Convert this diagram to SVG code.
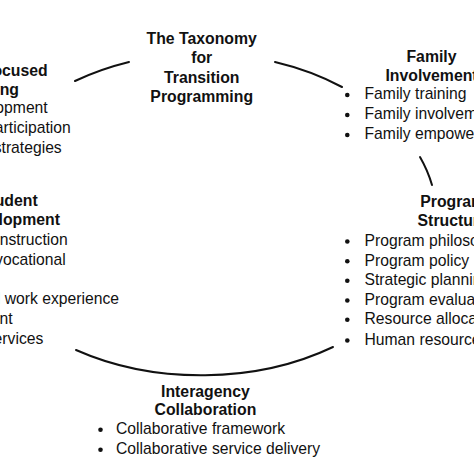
<svg xmlns="http://www.w3.org/2000/svg" width="474" height="474" viewBox="0 0 474 474">
<style>
text{font-family:"Liberation Sans",Arial,Helvetica,sans-serif;fill:#111}
.h{font-weight:bold;font-size:15.8px}
.b{font-size:15.7px}
.c{text-anchor:middle}
.e{text-anchor:end}
.arc{fill:none;stroke:#111;stroke-width:2;stroke-linecap:round}
.dot{fill:#111}
</style>
<rect width="474" height="474" fill="#fff"/>
<g id="connectors">
<path class="arc" d="M75,81 A232,160 0 0 1 129,62"/>
<path class="arc" d="M275,62 A232,160 0 0 1 342,87"/>
<path class="arc" d="M420,157 A232,160 0 0 1 432,185"/>
<path class="arc" d="M333,347 A232,160 0 0 1 76,350"/>
</g>
<g id="title">
<text class="h c" x="201.7" y="43.7">The Taxonomy</text>
<text class="h c" x="201.7" y="63.2">for</text>
<text class="h c" x="201.7" y="82.7">Transition</text>
<text class="h c" x="201.7" y="102.2">Programming</text>
</g>
<g id="student-focused-planning">
<text class="h e" x="47.7" y="76">Student-Focused</text>
<text class="h e" x="19" y="94.5">Planning</text>
<text class="b e" x="47.7" y="113.3">IEP development</text>
<text class="b e" x="70.7" y="133.3">Student participation</text>
<text class="b e" x="61.7" y="152.7">Planning strategies</text>
</g>
<g id="student-development">
<text class="h e" x="37.7" y="206">Student</text>
<text class="h e" x="60" y="225">Development</text>
<text class="b e" x="67.7" y="245">Life skills instruction</text>
<text class="b e" x="65.7" y="265">Career and vocational</text>
<text class="b e" x="119" y="304">Structured work experience</text>
<text class="b e" x="12.7" y="324">Assessment</text>
<text class="b e" x="43.3" y="344">Support services</text>
</g>
<g id="family-involvement">
<text class="h c" x="431.5" y="61.5">Family</text>
<text class="h c" x="431.5" y="80.5">Involvement</text>
<circle class="dot" cx="347.3" cy="95" r="2.3"/>
<circle class="dot" cx="347.3" cy="115" r="2.3"/>
<circle class="dot" cx="347.3" cy="135" r="2.3"/>
<text class="b" x="364.5" y="99.3">Family training</text>
<text class="b" x="364.5" y="119.3">Family involvement</text>
<text class="b" x="364.5" y="139.3">Family empowerment</text>
</g>
<g id="program-structure">
<text class="h c" x="452.7" y="207.3">Program</text>
<text class="h c" x="452.7" y="226">Structure</text>
<circle class="dot" cx="347.3" cy="241.5" r="2.3"/>
<circle class="dot" cx="347.3" cy="261.2" r="2.3"/>
<circle class="dot" cx="347.3" cy="280.7" r="2.3"/>
<circle class="dot" cx="347.3" cy="300.5" r="2.3"/>
<circle class="dot" cx="347.3" cy="319.8" r="2.3"/>
<circle class="dot" cx="347.3" cy="340.5" r="2.3"/>
<text class="b" x="364.5" y="246">Program philosophy</text>
<text class="b" x="364.5" y="265.7">Program policy</text>
<text class="b" x="364.5" y="285.2">Strategic planning</text>
<text class="b" x="364.5" y="305">Program evaluation</text>
<text class="b" x="364.5" y="324.3">Resource allocation</text>
<text class="b" x="364.5" y="345">Human resource development</text>
</g>
<g id="interagency-collaboration">
<text class="h c" x="205.4" y="396.7">Interagency</text>
<text class="h c" x="205.4" y="415.3">Collaboration</text>
<circle class="dot" cx="100.5" cy="429.8" r="2.3"/>
<circle class="dot" cx="100.5" cy="449.8" r="2.3"/>
<text class="b" x="116" y="434.2">Collaborative framework</text>
<text class="b" x="116" y="454.2">Collaborative service delivery</text>
</g>
</svg>
